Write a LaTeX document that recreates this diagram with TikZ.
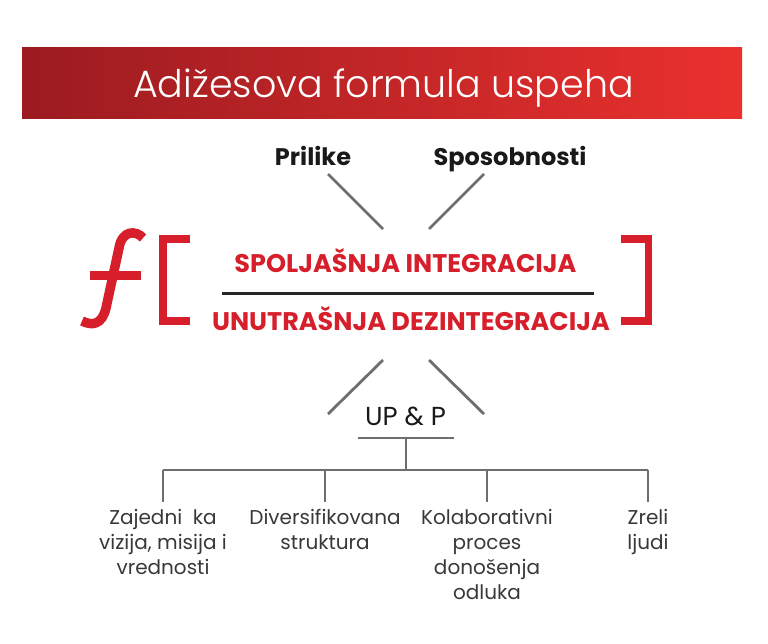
\documentclass[tikz,border=0pt]{standalone}
\usepackage{fontspec}
\setmainfont{Poppins}
\newfontfamily\lightfont{Poppins Light}
\usetikzlibrary{positioning}
\definecolor{adired}{HTML}{D71F2B}
\definecolor{darkred}{HTML}{9B1B20}
\definecolor{brightred}{HTML}{EA312E}
\definecolor{linegray}{HTML}{6E6E6E}
\definecolor{txtgray}{HTML}{383838}

\begin{document}
\begin{tikzpicture}[x=1pt, y=-1pt,
    conn/.style = {draw=linegray, line width=2.8pt},
    top/.style = {font=\fontsize{24}{24}\selectfont\bfseries, text=black!90, inner sep=0pt, anchor=base},
    redtxt/.style = {font=\fontsize{25.5}{25.5}\selectfont\bfseries, text=adired, inner sep=0pt, anchor=base},
    item/.style = {font=\fontsize{20}{25}\selectfont, text=txtgray, align=center, anchor=north, inner xsep=0pt, inner ysep=7pt},
    brk/.style = {draw=adired, line width=7.5pt}]
    \useasboundingbox (0,0) rectangle (768,643);
    \shade[left color=darkred, right color=brightred] (22,47) rectangle (742,118);
    \node[anchor=base, inner sep=0pt, text=white, font=\lightfont\fontsize{38}{38}\selectfont] (title) at (383.5,97) {Adižesova formula uspeha};

    \node[top] (prilike) at (313,165) {Prilike};
    \node[top] (sposob) at (510,165) {Sposobnosti};
    \coordinate (p1) at (328,174);
    \coordinate (p2) at (383,229);
    \coordinate (s1) at (484,174);
    \coordinate (s2) at (429,229);
    \draw[conn] (p1) -- (p2);
    \draw[conn] (s1) -- (s2);

    \draw[adired, line width=9.5pt] (143,238) .. controls (136,230) and (122,230) .. (119,248) -- (106,308) .. controls (102,325) and (92,326) .. (82,321);
    \draw[adired, line width=9pt] (90,275) -- (141,275);
    \draw[brk] (190,239) -- (163,239) -- (163,321) -- (190,321);
    \draw[brk] (621,239) -- (648.5,239) -- (648.5,321) -- (621,321);

    \node[redtxt] (spolj) at (405.5,272) {SPOLJAŠNJA INTEGRACIJA};
    \node[redtxt] (unutr) at (411,330) {UNUTRAŠNJA DEZINTEGRACIJA};
    \coordinate (fl) at (222,293);
    \coordinate (fr) at (594,293);
    \draw[line width=3pt, black!85] (fl) -- (fr);

    \coordinate (u1) at (383,360);
    \coordinate (u2) at (328,414);
    \coordinate (v1) at (429,360);
    \coordinate (v2) at (484,414);
    \draw[conn] (u1) -- (u2);
    \draw[conn] (v1) -- (v2);

    \node[anchor=base, inner sep=0pt, font=\fontsize{26}{26}\selectfont, text=black!90] (upp) at (405.5,425) {UP \& P};
    \coordinate (bl) at (358,438);
    \coordinate (br) at (454,438);
    \coordinate (bm) at (406,438);
    \coordinate (hub) at (406,470);
    \coordinate (c1) at (163,470);
    \coordinate (c4) at (648,470);
    \draw[conn] (bl) -- (br);
    \draw[conn] (bm) -- (hub);
    \draw[conn] (c1) -- (c4);

    \node[item] (zaj) at (163,502) {Zajedni\ \ ka\\vizija, misija i\\vrednosti};
    \node[item] (div) at (325,502) {Diversifikovana\\struktura};
    \node[item] (kol) at (487,502) {Kolaborativni\\proces\\donošenja\\odluka};
    \node[item] (zre) at (648,502) {Zreli\\ljudi};
    \draw[conn] (c1) -- (zaj.north);
    \draw[conn] (div.north |- c1) -- (div.north);
    \draw[conn] (kol.north |- c1) -- (kol.north);
    \draw[conn] (c4) -- (zre.north);
\end{tikzpicture}
\end{document}
